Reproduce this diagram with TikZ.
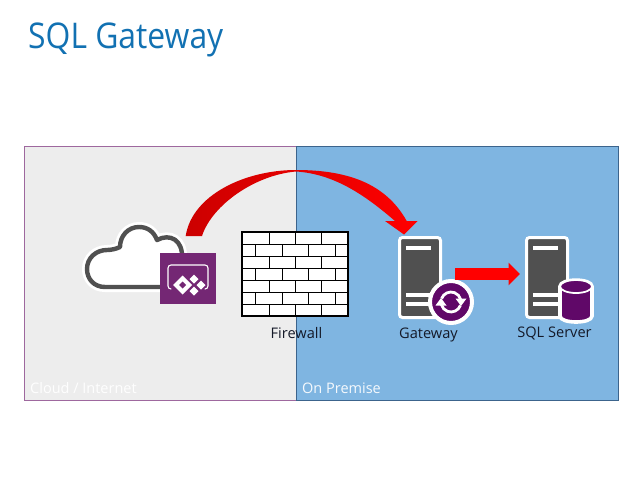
\documentclass[tikz,border=0pt]{standalone}
\usepackage{fontspec}
\usepackage{xcolor}
\setmainfont{Open Sans}
\newfontfamily\titlefont[FakeStretch=0.9]{Open Sans}
\usetikzlibrary{arrows.meta, positioning, calc}
\definecolor{titleblue}{RGB}{18, 113, 178}
\definecolor{zonegrey}{RGB}{237, 237, 237}
\definecolor{zoneblue}{RGB}{127, 181, 225}
\definecolor{zoneline}{RGB}{60, 100, 140}
\definecolor{appviolet}{RGB}{116, 39, 116}
\definecolor{syncviolet}{RGB}{96, 8, 104}
\definecolor{servergrey}{RGB}{80, 80, 80}
\definecolor{labelink}{RGB}{20, 25, 40}

\begin{document}
\begin{tikzpicture}[
  x=1pt, y=-1pt,
  zone/.style={rectangle, minimum height=254pt, inner sep=0pt, outer sep=0pt, line width=0.7pt},
  zonelabel/.style={font=\fontsize{14.5}{16}\selectfont, inner sep=0pt, anchor=base west},
  serverbox/.style={rectangle, rounded corners=3pt, draw=white, line width=3pt, fill=servergrey, minimum width=41pt, minimum height=80pt, inner sep=0pt},
  itemlabel/.style={font=\fontsize{14.6}{16}\selectfont, text=labelink, inner sep=0pt, anchor=base},
  bar/.style={fill=white},
  syncline/.style={draw=white, line width=2.8pt},
  synctip/.style={fill=white},
]
  \useasboundingbox (0,0) rectangle (638,485);

  \node[font=\titlefont\fontsize{35.4}{40}\selectfont, text=titleblue, inner sep=0pt, anchor=base west] (title) at (28,48) {SQL Gateway};

  \node[zone, minimum width=272pt, fill=zonegrey, draw=appviolet!70!white] (cloudzone) at (160,273) {};
  \node[zone, minimum width=322pt, fill=zoneblue, draw=zoneline] (premzone) at (457,273) {};
  \node[zonelabel, text=white!95!zonegrey] (cloudlabel) at (30,393) {Cloud / Internet};
  \node[zonelabel, text=white!92!zoneblue] (premlabel) at (302,393) {On Premise};

  % cloud with the app tile on top
  \path[fill=white, draw=servergrey, line width=4.4pt, line join=round,
        preaction={draw=white, line width=10pt}] (170,287) -- (105,287)
    .. controls (94,287) and (87,279) .. (87,269)
    .. controls (87,258) and (96,250) .. (107,250)
    .. controls (111,250) and (116,249) .. (120,247)
    .. controls (120,236) and (128,227) .. (139,227)
    .. controls (148,227) and (154,232) .. (157,240)
    .. controls (170,233) and (183,240) .. (182,258) -- cycle;
  \node[rectangle, fill=appviolet, minimum width=56pt, minimum height=51pt, inner sep=0pt] (app) at (188,278) {};
  \draw[white, line width=1.1pt, rounded corners=3pt, line cap=round] (171,289) -- (168,289) -- (168,265) -- (208,265) -- (208,289) -- (205,289);
  \fill[white] (182.7,275.5) -- (192.2,285) -- (182.7,294.5) -- (173.2,285) -- cycle;
  \fill[appviolet] (182.7,281.5) -- (186.2,285) -- (182.7,288.5) -- (179.2,285) -- cycle;
  \foreach \cx/\cy in {194/279, 201/285, 194/291}
    \fill[white] (\cx,\cy-4.5) -- (\cx+4.5,\cy) -- (\cx,\cy+4.5) -- (\cx-4.5,\cy) -- cycle;

  % firewall bricks
  \node[rectangle, draw=black, line width=1.1pt, fill=white, minimum width=106pt, minimum height=84pt, inner sep=0pt] (firewall) at (295,274) {};
  \foreach \row in {1,...,6}
    \draw[black, line width=1pt] (242,232+12*\row) -- (348,232+12*\row);
  \foreach \row in {0,2,4,6}
    \foreach \cx in {269,295.5,321.5}
      \draw[black, line width=1pt] (\cx,232+12*\row) -- (\cx,244+12*\row);
  \foreach \row in {1,3,5}
    \foreach \cx in {255.7,282.3,308.3,335}
      \draw[black, line width=1pt] (\cx,232+12*\row) -- (\cx,244+12*\row);

  \node[serverbox] (gateway) at (420,277.5) {};
  \node[serverbox] (sqlserver) at (547,277.5) {};
  \foreach \server in {gateway,sqlserver} {
    \fill[bar] ($(\server.north west)+(8,10)$) rectangle +(25,4);
    \fill[bar] ($(\server.north west)+(8,57)$) rectangle +(25,3.5);
    \fill[bar] ($(\server.north west)+(8,66)$) rectangle +(25,3.5);
  }

  % sync badge
  \node[circle, draw=white, line width=4pt, fill=syncviolet, minimum size=42pt, inner sep=0pt] (sync) at (451,302) {};
  \draw[syncline] ($(sync.center)+(-9.4,-3.4)$) arc[start angle=160, end angle=15, radius=10pt];
  \fill[synctip] (455.5,298.5) -- (466.5,298.5) -- (461,306) -- cycle;
  \draw[syncline] ($(sync.center)+(9.4,3.4)$) arc[start angle=-20, end angle=-165, radius=10pt];
  \fill[synctip] (435.5,305.5) -- (446.5,305.5) -- (441,298) -- cycle;

  % database drum
  \path[fill=syncviolet, draw=white, line width=3.6pt] (560,286.5) -- (560,316) .. controls (560,324) and (592,324) .. (592,316) -- (592,286.5)
    .. controls (592,278) and (560,278) .. (560,286.5) -- cycle;
  \draw[fill=syncviolet, draw=white, line width=1.8pt] (576,286.5) ellipse[x radius=16, y radius=6.5];

  \node[itemlabel] (firewalllabel) at (296.5,338) {Firewall};
  \node[itemlabel] (gatewaylabel) at (428.5,338) {Gateway};
  \node[itemlabel] (sqllabel) at (554.5,337) {SQL Server};

  % curved arrow from the app to the gateway
  \path[left color=red!80!black, right color=red]
    ($(app.north)+(-2.3,-16.3)$)
    .. controls (192,195) and (245,170) .. (296,170)
    .. controls (345,170) and (385,182) .. (406.7,221)
    -- (417.7,221) -- ($(gateway.north)+(-16,-1.5)$) -- (385,221) -- (395,221)
    .. controls (366,196) and (335,174) .. (296,171.5)
    .. controls (255,175) and (212,205) .. ($(app.north)+(14,-16.3)$) -- cycle;

  \draw[-{Triangle[width=22pt, length=11.5pt]}, red, line width=12pt]
    ($(gateway.east)+(13,-3.5)$) -- ($(sqlserver.west)+(-5,-3.5)$);
\end{tikzpicture}
\end{document}
